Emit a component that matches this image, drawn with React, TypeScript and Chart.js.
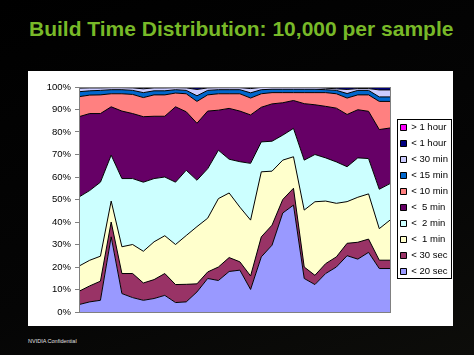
import React, { useEffect, useRef } from 'react';
import { Chart, registerables } from 'chart.js';

Chart.register(...registerables);

const samples = ['1','2','3','4','5','6','7','8','9','10','11','12','13','14','15','16','17','18','19','20','21','22','23','24','25','26','27','28','29','30'];

const lt20sec = [3.3, 4.5, 5.2, 33.4, 8.2, 6.4, 5.2, 6.0, 7.4, 4.2, 4.5, 8.9, 14.9, 14.0, 18.0, 18.6, 10.0, 24.5, 29.7, 44.0, 47.5, 14.9, 12.2, 17.1, 20.0, 25.0, 23.5, 26.5, 19.3, 19.3];
const lt30sec = [5.9, 7.1, 8.5, 6.6, 8.9, 10.7, 7.7, 8.4, 9.7, 8.0, 7.8, 3.6, 2.9, 6.0, 6.2, 3.7, 6.0, 8.9, 8.9, 6.0, 7.5, 5.1, 4.1, 4.4, 4.5, 5.5, 7.5, 5.9, 3.7, 3.7];
const lt1min = [11.2, 11.4, 11.1, 9.3, 11.9, 12.9, 14.1, 16.8, 16.8, 17.8, 21.7, 25.4, 23.9, 30.4, 28.7, 24.3, 24.8, 28.9, 24.0, 17.5, 14.0, 25.3, 32.7, 27.8, 23.8, 18.5, 20.0, 20.1, 14.0, 17.8];
const lt2min = [30.7, 31.0, 32.9, 20.4, 30.3, 29.3, 30.7, 28.1, 26.1, 27.7, 29.0, 20.6, 22.0, 21.5, 15.0, 20.2, 25.2, 13.3, 13.3, 11.1, 12.6, 22.2, 21.0, 19.2, 18.4, 15.5, 17.5, 15.7, 17.5, 16.2];
const lt5min = [35.7, 34.2, 30.5, 21.5, 30.0, 28.9, 29.1, 27.7, 27.0, 33.5, 26.0, 25.3, 25.6, 17.8, 22.6, 22.5, 21.5, 15.4, 16.6, 14.4, 12.4, 25.1, 22.1, 22.9, 23.9, 23.2, 21.4, 21.0, 26.5, 24.7];
const lt10min = [8.9, 8.2, 8.3, 5.8, 7.7, 8.5, 8.5, 9.5, 9.5, 6.1, 8.0, 9.7, 7.2, 7.3, 6.5, 7.7, 7.5, 6.0, 5.0, 4.5, 3.5, 4.9, 5.4, 6.1, 6.4, 7.3, 6.6, 7.3, 12.5, 11.8];
const lt15min = [2.2, 1.9, 2.0, 1.8, 1.8, 1.8, 2.2, 1.8, 1.8, 1.5, 1.5, 2.5, 2.0, 1.8, 1.8, 1.8, 2.3, 1.8, 1.5, 1.5, 1.5, 1.5, 1.5, 1.3, 1.5, 2.0, 2.0, 2.0, 2.0, 2.0];
const lt30min = [1.6, 1.3, 1.1, 0.9, 0.9, 1.1, 1.7, 1.3, 1.3, 0.9, 1.1, 2.8, 1.1, 0.9, 0.9, 0.9, 1.9, 1.0, 0.8, 0.8, 0.8, 0.8, 0.8, 0.7, 0.7, 1.8, 0.8, 0.8, 3.1, 3.1];
const lt1hour = [0.4, 0.3, 0.3, 0.2, 0.2, 0.3, 0.7, 0.3, 0.3, 0.2, 0.3, 1.0, 0.3, 0.2, 0.2, 0.2, 0.6, 0.1, 0.1, 0.1, 0.1, 0.1, 0.1, 0.4, 0.7, 1.0, 0.6, 0.6, 1.2, 1.2];
const gt1hour = [0.1, 0.1, 0.1, 0.1, 0.1, 0.1, 0.1, 0.1, 0.1, 0.1, 0.1, 0.1, 0.1, 0.1, 0.1, 0.1, 0.1, 0.1, 0.1, 0.1, 0.1, 0.1, 0.1, 0.1, 0.1, 0.1, 0.1, 0.1, 0.1, 0.1];

const seriesLabels = ['< 20 sec', '< 30 sec', '<  1 min', '<  2 min', '<  5 min', '< 10 min', '< 15 min', '< 30 min', '< 1 hour', '> 1 hour'];
const seriesValues = [lt20sec, lt30sec, lt1min, lt2min, lt5min, lt10min, lt15min, lt30min, lt1hour, gt1hour];
const seriesColors = ['#9999FF', '#993366', '#FFFFCC', '#CCFFFF', '#660066', '#FF8080', '#0066CC', '#CCCCFF', '#000080', '#FF00FF'];

const yTicks = [0, 10, 20, 30, 40, 50, 60, 70, 80, 90, 100];

const FONT = '"Liberation Sans", Arial, sans-serif';

const framePlugin = {
  id: 'frames',
  afterDatasetsDraw(chart: any) {
    const { ctx, chartArea } = chart;
    ctx.save();
    ctx.strokeStyle = '#808080';
    ctx.lineWidth = 1;
    ctx.strokeRect(Math.round(chartArea.left) + 0.5, Math.round(chartArea.top) + 0.5,
      Math.round(chartArea.right - chartArea.left), Math.round(chartArea.bottom - chartArea.top));
    ctx.restore();
  },
  afterDraw(chart: any) {
    const lg = chart.legend;
    if (!lg || !lg.legendHitBoxes || !lg.legendHitBoxes.length) return;
    const hb = lg.legendHitBoxes;
    const first = hb[0];
    const last = hb[hb.length - 1];
    const { ctx } = chart;
    ctx.save();
    ctx.strokeStyle = '#000';
    ctx.lineWidth = 1;
    const x1 = Math.round(lg.left + 3) + 0.5;
    const x2 = Math.round(lg.right - 1) + 0.5;
    const y1 = Math.round(first.top - 4) + 0.5;
    const y2 = Math.round(last.top + last.height + 2) + 0.5;
    ctx.strokeRect(x1, y1, x2 - x1, y2 - y1);
    ctx.restore();
  },
};

export default function App() {
  const canvasRef = useRef<HTMLCanvasElement | null>(null);

  useEffect(() => {
    if (!canvasRef.current) return;
    const totals = samples.map((_, i) => seriesValues.reduce((s, arr) => s + arr[i], 0));
    const datasets = seriesValues.map((arr, k) => ({
      label: seriesLabels[k],
      data: arr.map((v, i) => (v / totals[i]) * 100),
      backgroundColor: seriesColors[k],
      borderColor: '#000000',
      borderWidth: 1,
      pointRadius: 0,
      pointHoverRadius: 0,
      tension: 0,
      fill: k === 0 ? 'origin' : '-1',
      yAxisID: 'y',
    }));

    const chart = new Chart(canvasRef.current, {
      type: 'line',
      data: { labels: samples, datasets },
      plugins: [framePlugin],
      options: {
        animation: false,
        responsive: false,
        devicePixelRatio: 1,
        layout: { padding: { top: 16, bottom: 14, left: 0, right: 1 } },
        plugins: {
          title: { display: false },
          tooltip: { enabled: false },
          legend: {
            position: 'right',
            reverse: true,
            maxWidth: 58,
            labels: {
              boxWidth: 6,
              boxHeight: 6,
              padding: 6.5,
              color: '#000',
              font: { family: FONT, size: 9.5 },
            },
          },
        },
        scales: {
          x: {
            type: 'category',
            display: false,
            offset: false,
          },
          y: {
            type: 'linear',
            stacked: true,
            min: 0,
            max: 100,
            afterBuildTicks: (s: any) => { s.ticks = yTicks.map((v) => ({ value: v })); },
            afterFit: (s: any) => { s.width = 51; },
            ticks: {
              color: '#000',
              padding: 4,
              font: { family: FONT, size: 9.5 },
              callback: (v: any) => v + '%',
            },
            grid: { drawOnChartArea: false, tickLength: 4, color: '#808080' },
            border: { display: true, color: '#808080' },
          },
          yR: {
            type: 'linear',
            position: 'right',
            display: true,
            ticks: { display: false },
            grid: { display: false },
            border: { display: false },
            afterFit: (s: any) => { s.width = 4; },
          },
        },
      },
    } as any);
    return () => chart.destroy();
  }, []);

  return (
    <div style={{ position: 'fixed', left: 0, top: 0, width: 474, height: 355, overflow: 'hidden',
      background: 'linear-gradient(160deg, #000000 0%, #050505 60%, #0d0d0a 100%)' }}>
      <div style={{ position: 'absolute', left: 29, top: 18, fontFamily: FONT, fontWeight: 'bold',
        fontSize: 21, lineHeight: '21px', color: '#78b928', whiteSpace: 'nowrap' }}>
        Build Time Distribution: 10,000 per sample
      </div>
      <div style={{ position: 'absolute', left: 28, top: 71, width: 425, height: 255, background: '#ffffff' }}>
        <canvas ref={canvasRef} width={425} height={255} style={{ display: 'block', width: 425, height: 255 }} />
      </div>
      <div style={{ position: 'absolute', left: 28, top: 338, fontFamily: FONT, fontSize: 5.5,
        lineHeight: '6px', color: '#e0e0e0', whiteSpace: 'nowrap' }}>
        NVIDIA Confidential
      </div>
    </div>
  );
}
